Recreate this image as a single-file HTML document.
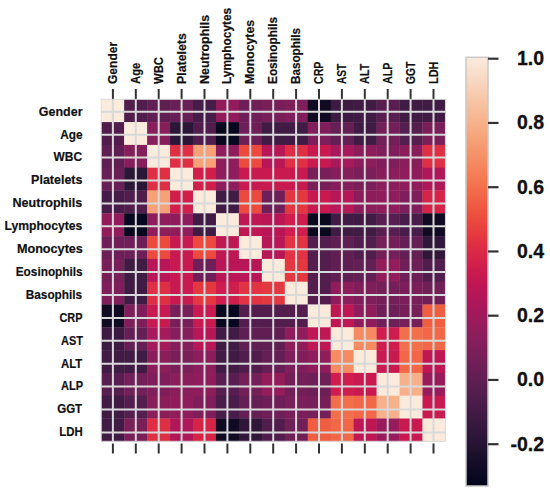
<!DOCTYPE html><html><head><meta charset="utf-8"><style>
html,body{margin:0;padding:0;background:#fff;width:550px;height:492px;overflow:hidden;position:relative;font-family:"Liberation Sans",sans-serif;font-weight:bold;color:#111}
.l{position:absolute;font-size:13px;line-height:14px;white-space:nowrap;-webkit-text-stroke:0.2px #111}
.yl{right:467.5px;text-align:right;transform-origin:100% 50%;transform:scaleX(0.945)}
.xl{transform-origin:0 0;transform:rotate(-90deg) scaleX(0.945)}
.cb{position:absolute;font-size:19.5px;line-height:20px;right:6px;text-align:right;-webkit-text-stroke:0.3px #111}
</style></head><body>
<svg width="550" height="492" style="position:absolute;left:0;top:0"><rect x="101.20" y="99.30" width="23.25" height="23.10" fill="#faebdd"/><rect x="124.15" y="99.30" width="23.25" height="23.10" fill="#501d4c"/><rect x="147.10" y="99.30" width="23.25" height="23.10" fill="#601f52"/><rect x="170.05" y="99.30" width="23.25" height="23.10" fill="#681f55"/><rect x="193.00" y="99.30" width="23.25" height="23.10" fill="#461c48"/><rect x="215.95" y="99.30" width="23.25" height="23.10" fill="#921c5b"/><rect x="238.90" y="99.30" width="23.25" height="23.10" fill="#6e1f57"/><rect x="261.85" y="99.30" width="23.25" height="23.10" fill="#781f59"/><rect x="284.80" y="99.30" width="23.25" height="23.10" fill="#7f1e5a"/><rect x="307.75" y="99.30" width="23.25" height="23.10" fill="#100b23"/><rect x="330.70" y="99.30" width="23.25" height="23.10" fill="#3d1a42"/><rect x="353.65" y="99.30" width="23.25" height="23.10" fill="#401b44"/><rect x="376.60" y="99.30" width="23.25" height="23.10" fill="#591e50"/><rect x="399.55" y="99.30" width="23.25" height="23.10" fill="#401b44"/><rect x="422.50" y="99.30" width="23.25" height="23.10" fill="#401b44"/><rect x="101.20" y="122.10" width="23.25" height="23.10" fill="#501d4c"/><rect x="124.15" y="122.10" width="23.25" height="23.10" fill="#faebdd"/><rect x="147.10" y="122.10" width="23.25" height="23.10" fill="#861e5b"/><rect x="170.05" y="122.10" width="23.25" height="23.10" fill="#2a1636"/><rect x="193.00" y="122.10" width="23.25" height="23.10" fill="#501d4c"/><rect x="215.95" y="122.10" width="23.25" height="23.10" fill="#08081e"/><rect x="238.90" y="122.10" width="23.25" height="23.10" fill="#6e1f57"/><rect x="261.85" y="122.10" width="23.25" height="23.10" fill="#401b44"/><rect x="284.80" y="122.10" width="23.25" height="23.10" fill="#401b44"/><rect x="307.75" y="122.10" width="23.25" height="23.10" fill="#7f1e5a"/><rect x="330.70" y="122.10" width="23.25" height="23.10" fill="#641f54"/><rect x="353.65" y="122.10" width="23.25" height="23.10" fill="#401b44"/><rect x="376.60" y="122.10" width="23.25" height="23.10" fill="#731f58"/><rect x="399.55" y="122.10" width="23.25" height="23.10" fill="#541e4e"/><rect x="422.50" y="122.10" width="23.25" height="23.10" fill="#7b1f59"/><rect x="101.20" y="144.90" width="23.25" height="23.10" fill="#601f52"/><rect x="124.15" y="144.90" width="23.25" height="23.10" fill="#861e5b"/><rect x="147.10" y="144.90" width="23.25" height="23.10" fill="#faebdd"/><rect x="170.05" y="144.90" width="23.25" height="23.10" fill="#df2f44"/><rect x="193.00" y="144.90" width="23.25" height="23.10" fill="#f6a178"/><rect x="215.95" y="144.90" width="23.25" height="23.10" fill="#901d5b"/><rect x="238.90" y="144.90" width="23.25" height="23.10" fill="#ec4a3e"/><rect x="261.85" y="144.90" width="23.25" height="23.10" fill="#b71657"/><rect x="284.80" y="144.90" width="23.25" height="23.10" fill="#df2f44"/><rect x="307.75" y="144.90" width="23.25" height="23.10" fill="#c81951"/><rect x="330.70" y="144.90" width="23.25" height="23.10" fill="#a6195a"/><rect x="353.65" y="144.90" width="23.25" height="23.10" fill="#8b1d5b"/><rect x="376.60" y="144.90" width="23.25" height="23.10" fill="#7f1e5a"/><rect x="399.55" y="144.90" width="23.25" height="23.10" fill="#891e5b"/><rect x="422.50" y="144.90" width="23.25" height="23.10" fill="#df2f44"/><rect x="101.20" y="167.70" width="23.25" height="23.10" fill="#681f55"/><rect x="124.15" y="167.70" width="23.25" height="23.10" fill="#2a1636"/><rect x="147.10" y="167.70" width="23.25" height="23.10" fill="#df2f44"/><rect x="170.05" y="167.70" width="23.25" height="23.10" fill="#faebdd"/><rect x="193.00" y="167.70" width="23.25" height="23.10" fill="#d11f4c"/><rect x="215.95" y="167.70" width="23.25" height="23.10" fill="#901d5b"/><rect x="238.90" y="167.70" width="23.25" height="23.10" fill="#c81951"/><rect x="261.85" y="167.70" width="23.25" height="23.10" fill="#c81951"/><rect x="284.80" y="167.70" width="23.25" height="23.10" fill="#c81951"/><rect x="307.75" y="167.70" width="23.25" height="23.10" fill="#781f59"/><rect x="330.70" y="167.70" width="23.25" height="23.10" fill="#861e5b"/><rect x="353.65" y="167.70" width="23.25" height="23.10" fill="#7b1f59"/><rect x="376.60" y="167.70" width="23.25" height="23.10" fill="#891e5b"/><rect x="399.55" y="167.70" width="23.25" height="23.10" fill="#901d5b"/><rect x="422.50" y="167.70" width="23.25" height="23.10" fill="#b01759"/><rect x="101.20" y="190.50" width="23.25" height="23.10" fill="#461c48"/><rect x="124.15" y="190.50" width="23.25" height="23.10" fill="#501d4c"/><rect x="147.10" y="190.50" width="23.25" height="23.10" fill="#f6a178"/><rect x="170.05" y="190.50" width="23.25" height="23.10" fill="#d11f4c"/><rect x="193.00" y="190.50" width="23.25" height="23.10" fill="#faebdd"/><rect x="215.95" y="190.50" width="23.25" height="23.10" fill="#401b44"/><rect x="238.90" y="190.50" width="23.25" height="23.10" fill="#ec4a3e"/><rect x="261.85" y="190.50" width="23.25" height="23.10" fill="#6e1f57"/><rect x="284.80" y="190.50" width="23.25" height="23.10" fill="#e43841"/><rect x="307.75" y="190.50" width="23.25" height="23.10" fill="#c81951"/><rect x="330.70" y="190.50" width="23.25" height="23.10" fill="#b71657"/><rect x="353.65" y="190.50" width="23.25" height="23.10" fill="#8b1d5b"/><rect x="376.60" y="190.50" width="23.25" height="23.10" fill="#901d5b"/><rect x="399.55" y="190.50" width="23.25" height="23.10" fill="#7f1e5a"/><rect x="422.50" y="190.50" width="23.25" height="23.10" fill="#d62449"/><rect x="101.20" y="213.30" width="23.25" height="23.10" fill="#921c5b"/><rect x="124.15" y="213.30" width="23.25" height="23.10" fill="#08081e"/><rect x="147.10" y="213.30" width="23.25" height="23.10" fill="#901d5b"/><rect x="170.05" y="213.30" width="23.25" height="23.10" fill="#901d5b"/><rect x="193.00" y="213.30" width="23.25" height="23.10" fill="#401b44"/><rect x="215.95" y="213.30" width="23.25" height="23.10" fill="#faebdd"/><rect x="238.90" y="213.30" width="23.25" height="23.10" fill="#bf1654"/><rect x="261.85" y="213.30" width="23.25" height="23.10" fill="#ba1656"/><rect x="284.80" y="213.30" width="23.25" height="23.10" fill="#ce1d4e"/><rect x="307.75" y="213.30" width="23.25" height="23.10" fill="#08081e"/><rect x="330.70" y="213.30" width="23.25" height="23.10" fill="#401b44"/><rect x="353.65" y="213.30" width="23.25" height="23.10" fill="#401b44"/><rect x="376.60" y="213.30" width="23.25" height="23.10" fill="#591e50"/><rect x="399.55" y="213.30" width="23.25" height="23.10" fill="#491d49"/><rect x="422.50" y="213.30" width="23.25" height="23.10" fill="#100b23"/><rect x="101.20" y="236.10" width="23.25" height="23.10" fill="#6e1f57"/><rect x="124.15" y="236.10" width="23.25" height="23.10" fill="#6e1f57"/><rect x="147.10" y="236.10" width="23.25" height="23.10" fill="#ec4a3e"/><rect x="170.05" y="236.10" width="23.25" height="23.10" fill="#c81951"/><rect x="193.00" y="236.10" width="23.25" height="23.10" fill="#ec4a3e"/><rect x="215.95" y="236.10" width="23.25" height="23.10" fill="#bf1654"/><rect x="238.90" y="236.10" width="23.25" height="23.10" fill="#faebdd"/><rect x="261.85" y="236.10" width="23.25" height="23.10" fill="#b71657"/><rect x="284.80" y="236.10" width="23.25" height="23.10" fill="#e13342"/><rect x="307.75" y="236.10" width="23.25" height="23.10" fill="#531e4d"/><rect x="330.70" y="236.10" width="23.25" height="23.10" fill="#601f52"/><rect x="353.65" y="236.10" width="23.25" height="23.10" fill="#501d4c"/><rect x="376.60" y="236.10" width="23.25" height="23.10" fill="#751f58"/><rect x="399.55" y="236.10" width="23.25" height="23.10" fill="#641f54"/><rect x="422.50" y="236.10" width="23.25" height="23.10" fill="#30173a"/><rect x="101.20" y="258.90" width="23.25" height="23.10" fill="#781f59"/><rect x="124.15" y="258.90" width="23.25" height="23.10" fill="#401b44"/><rect x="147.10" y="258.90" width="23.25" height="23.10" fill="#b71657"/><rect x="170.05" y="258.90" width="23.25" height="23.10" fill="#c81951"/><rect x="193.00" y="258.90" width="23.25" height="23.10" fill="#6e1f57"/><rect x="215.95" y="258.90" width="23.25" height="23.10" fill="#ba1656"/><rect x="238.90" y="258.90" width="23.25" height="23.10" fill="#b71657"/><rect x="261.85" y="258.90" width="23.25" height="23.10" fill="#faebdd"/><rect x="284.80" y="258.90" width="23.25" height="23.10" fill="#e43841"/><rect x="307.75" y="258.90" width="23.25" height="23.10" fill="#531e4d"/><rect x="330.70" y="258.90" width="23.25" height="23.10" fill="#601f52"/><rect x="353.65" y="258.90" width="23.25" height="23.10" fill="#641f54"/><rect x="376.60" y="258.90" width="23.25" height="23.10" fill="#931c5b"/><rect x="399.55" y="258.90" width="23.25" height="23.10" fill="#6e1f57"/><rect x="422.50" y="258.90" width="23.25" height="23.10" fill="#501d4c"/><rect x="101.20" y="281.70" width="23.25" height="23.10" fill="#7f1e5a"/><rect x="124.15" y="281.70" width="23.25" height="23.10" fill="#401b44"/><rect x="147.10" y="281.70" width="23.25" height="23.10" fill="#df2f44"/><rect x="170.05" y="281.70" width="23.25" height="23.10" fill="#c81951"/><rect x="193.00" y="281.70" width="23.25" height="23.10" fill="#e43841"/><rect x="215.95" y="281.70" width="23.25" height="23.10" fill="#ce1d4e"/><rect x="238.90" y="281.70" width="23.25" height="23.10" fill="#e13342"/><rect x="261.85" y="281.70" width="23.25" height="23.10" fill="#e43841"/><rect x="284.80" y="281.70" width="23.25" height="23.10" fill="#faebdd"/><rect x="307.75" y="281.70" width="23.25" height="23.10" fill="#531e4d"/><rect x="330.70" y="281.70" width="23.25" height="23.10" fill="#901d5b"/><rect x="353.65" y="281.70" width="23.25" height="23.10" fill="#7f1e5a"/><rect x="376.60" y="281.70" width="23.25" height="23.10" fill="#751f58"/><rect x="399.55" y="281.70" width="23.25" height="23.10" fill="#7a1f59"/><rect x="422.50" y="281.70" width="23.25" height="23.10" fill="#701f57"/><rect x="101.20" y="304.50" width="23.25" height="23.10" fill="#100b23"/><rect x="124.15" y="304.50" width="23.25" height="23.10" fill="#7f1e5a"/><rect x="147.10" y="304.50" width="23.25" height="23.10" fill="#c81951"/><rect x="170.05" y="304.50" width="23.25" height="23.10" fill="#781f59"/><rect x="193.00" y="304.50" width="23.25" height="23.10" fill="#c81951"/><rect x="215.95" y="304.50" width="23.25" height="23.10" fill="#08081e"/><rect x="238.90" y="304.50" width="23.25" height="23.10" fill="#531e4d"/><rect x="261.85" y="304.50" width="23.25" height="23.10" fill="#531e4d"/><rect x="284.80" y="304.50" width="23.25" height="23.10" fill="#531e4d"/><rect x="307.75" y="304.50" width="23.25" height="23.10" fill="#faebdd"/><rect x="330.70" y="304.50" width="23.25" height="23.10" fill="#bf1654"/><rect x="353.65" y="304.50" width="23.25" height="23.10" fill="#901d5b"/><rect x="376.60" y="304.50" width="23.25" height="23.10" fill="#6e1f57"/><rect x="399.55" y="304.50" width="23.25" height="23.10" fill="#761f58"/><rect x="422.50" y="304.50" width="23.25" height="23.10" fill="#f05e42"/><rect x="101.20" y="327.30" width="23.25" height="23.10" fill="#3d1a42"/><rect x="124.15" y="327.30" width="23.25" height="23.10" fill="#641f54"/><rect x="147.10" y="327.30" width="23.25" height="23.10" fill="#a6195a"/><rect x="170.05" y="327.30" width="23.25" height="23.10" fill="#861e5b"/><rect x="193.00" y="327.30" width="23.25" height="23.10" fill="#b71657"/><rect x="215.95" y="327.30" width="23.25" height="23.10" fill="#401b44"/><rect x="238.90" y="327.30" width="23.25" height="23.10" fill="#601f52"/><rect x="261.85" y="327.30" width="23.25" height="23.10" fill="#601f52"/><rect x="284.80" y="327.30" width="23.25" height="23.10" fill="#901d5b"/><rect x="307.75" y="327.30" width="23.25" height="23.10" fill="#bf1654"/><rect x="330.70" y="327.30" width="23.25" height="23.10" fill="#faebdd"/><rect x="353.65" y="327.30" width="23.25" height="23.10" fill="#f58b63"/><rect x="376.60" y="327.30" width="23.25" height="23.10" fill="#ce1d4e"/><rect x="399.55" y="327.30" width="23.25" height="23.10" fill="#f26f4c"/><rect x="422.50" y="327.30" width="23.25" height="23.10" fill="#f26747"/><rect x="101.20" y="350.10" width="23.25" height="23.10" fill="#401b44"/><rect x="124.15" y="350.10" width="23.25" height="23.10" fill="#401b44"/><rect x="147.10" y="350.10" width="23.25" height="23.10" fill="#8b1d5b"/><rect x="170.05" y="350.10" width="23.25" height="23.10" fill="#7b1f59"/><rect x="193.00" y="350.10" width="23.25" height="23.10" fill="#8b1d5b"/><rect x="215.95" y="350.10" width="23.25" height="23.10" fill="#401b44"/><rect x="238.90" y="350.10" width="23.25" height="23.10" fill="#501d4c"/><rect x="261.85" y="350.10" width="23.25" height="23.10" fill="#641f54"/><rect x="284.80" y="350.10" width="23.25" height="23.10" fill="#7f1e5a"/><rect x="307.75" y="350.10" width="23.25" height="23.10" fill="#901d5b"/><rect x="330.70" y="350.10" width="23.25" height="23.10" fill="#f58b63"/><rect x="353.65" y="350.10" width="23.25" height="23.10" fill="#faebdd"/><rect x="376.60" y="350.10" width="23.25" height="23.10" fill="#c81951"/><rect x="399.55" y="350.10" width="23.25" height="23.10" fill="#f26747"/><rect x="422.50" y="350.10" width="23.25" height="23.10" fill="#bf1654"/><rect x="101.20" y="372.90" width="23.25" height="23.10" fill="#591e50"/><rect x="124.15" y="372.90" width="23.25" height="23.10" fill="#731f58"/><rect x="147.10" y="372.90" width="23.25" height="23.10" fill="#7f1e5a"/><rect x="170.05" y="372.90" width="23.25" height="23.10" fill="#891e5b"/><rect x="193.00" y="372.90" width="23.25" height="23.10" fill="#901d5b"/><rect x="215.95" y="372.90" width="23.25" height="23.10" fill="#591e50"/><rect x="238.90" y="372.90" width="23.25" height="23.10" fill="#751f58"/><rect x="261.85" y="372.90" width="23.25" height="23.10" fill="#931c5b"/><rect x="284.80" y="372.90" width="23.25" height="23.10" fill="#751f58"/><rect x="307.75" y="372.90" width="23.25" height="23.10" fill="#6e1f57"/><rect x="330.70" y="372.90" width="23.25" height="23.10" fill="#ce1d4e"/><rect x="353.65" y="372.90" width="23.25" height="23.10" fill="#c81951"/><rect x="376.60" y="372.90" width="23.25" height="23.10" fill="#faebdd"/><rect x="399.55" y="372.90" width="23.25" height="23.10" fill="#f6b18b"/><rect x="422.50" y="372.90" width="23.25" height="23.10" fill="#981b5b"/><rect x="101.20" y="395.70" width="23.25" height="23.10" fill="#401b44"/><rect x="124.15" y="395.70" width="23.25" height="23.10" fill="#541e4e"/><rect x="147.10" y="395.70" width="23.25" height="23.10" fill="#891e5b"/><rect x="170.05" y="395.70" width="23.25" height="23.10" fill="#901d5b"/><rect x="193.00" y="395.70" width="23.25" height="23.10" fill="#7f1e5a"/><rect x="215.95" y="395.70" width="23.25" height="23.10" fill="#491d49"/><rect x="238.90" y="395.70" width="23.25" height="23.10" fill="#641f54"/><rect x="261.85" y="395.70" width="23.25" height="23.10" fill="#6e1f57"/><rect x="284.80" y="395.70" width="23.25" height="23.10" fill="#7a1f59"/><rect x="307.75" y="395.70" width="23.25" height="23.10" fill="#761f58"/><rect x="330.70" y="395.70" width="23.25" height="23.10" fill="#f26f4c"/><rect x="353.65" y="395.70" width="23.25" height="23.10" fill="#f26747"/><rect x="376.60" y="395.70" width="23.25" height="23.10" fill="#f6b18b"/><rect x="399.55" y="395.70" width="23.25" height="23.10" fill="#faebdd"/><rect x="422.50" y="395.70" width="23.25" height="23.10" fill="#c81951"/><rect x="101.20" y="418.50" width="23.25" height="23.10" fill="#401b44"/><rect x="124.15" y="418.50" width="23.25" height="23.10" fill="#7b1f59"/><rect x="147.10" y="418.50" width="23.25" height="23.10" fill="#df2f44"/><rect x="170.05" y="418.50" width="23.25" height="23.10" fill="#b01759"/><rect x="193.00" y="418.50" width="23.25" height="23.10" fill="#d62449"/><rect x="215.95" y="418.50" width="23.25" height="23.10" fill="#100b23"/><rect x="238.90" y="418.50" width="23.25" height="23.10" fill="#30173a"/><rect x="261.85" y="418.50" width="23.25" height="23.10" fill="#501d4c"/><rect x="284.80" y="418.50" width="23.25" height="23.10" fill="#701f57"/><rect x="307.75" y="418.50" width="23.25" height="23.10" fill="#f05e42"/><rect x="330.70" y="418.50" width="23.25" height="23.10" fill="#f26747"/><rect x="353.65" y="418.50" width="23.25" height="23.10" fill="#bf1654"/><rect x="376.60" y="418.50" width="23.25" height="23.10" fill="#981b5b"/><rect x="399.55" y="418.50" width="23.25" height="23.10" fill="#c81951"/><rect x="422.50" y="418.50" width="23.25" height="23.10" fill="#faebdd"/><line x1="112.90" y1="99.30" x2="112.90" y2="441.30" stroke="#d9d9d9" stroke-width="2"/><line x1="101.20" y1="111.80" x2="445.45" y2="111.80" stroke="#d9d9d9" stroke-width="2"/><line x1="112.90" y1="89" x2="112.90" y2="99.5" stroke="#333" stroke-width="2"/><line x1="112.90" y1="443.5" x2="112.90" y2="453.5" stroke="#333" stroke-width="2"/><line x1="135.80" y1="99.30" x2="135.80" y2="441.30" stroke="#d9d9d9" stroke-width="2"/><line x1="101.20" y1="134.70" x2="445.45" y2="134.70" stroke="#d9d9d9" stroke-width="2"/><line x1="135.80" y1="89" x2="135.80" y2="99.5" stroke="#333" stroke-width="2"/><line x1="135.80" y1="443.5" x2="135.80" y2="453.5" stroke="#333" stroke-width="2"/><line x1="158.70" y1="99.30" x2="158.70" y2="441.30" stroke="#d9d9d9" stroke-width="2"/><line x1="101.20" y1="157.60" x2="445.45" y2="157.60" stroke="#d9d9d9" stroke-width="2"/><line x1="158.70" y1="89" x2="158.70" y2="99.5" stroke="#333" stroke-width="2"/><line x1="158.70" y1="443.5" x2="158.70" y2="453.5" stroke="#333" stroke-width="2"/><line x1="181.60" y1="99.30" x2="181.60" y2="441.30" stroke="#d9d9d9" stroke-width="2"/><line x1="101.20" y1="180.50" x2="445.45" y2="180.50" stroke="#d9d9d9" stroke-width="2"/><line x1="181.60" y1="89" x2="181.60" y2="99.5" stroke="#333" stroke-width="2"/><line x1="181.60" y1="443.5" x2="181.60" y2="453.5" stroke="#333" stroke-width="2"/><line x1="204.50" y1="99.30" x2="204.50" y2="441.30" stroke="#d9d9d9" stroke-width="2"/><line x1="101.20" y1="203.40" x2="445.45" y2="203.40" stroke="#d9d9d9" stroke-width="2"/><line x1="204.50" y1="89" x2="204.50" y2="99.5" stroke="#333" stroke-width="2"/><line x1="204.50" y1="443.5" x2="204.50" y2="453.5" stroke="#333" stroke-width="2"/><line x1="227.40" y1="99.30" x2="227.40" y2="441.30" stroke="#d9d9d9" stroke-width="2"/><line x1="101.20" y1="226.30" x2="445.45" y2="226.30" stroke="#d9d9d9" stroke-width="2"/><line x1="227.40" y1="89" x2="227.40" y2="99.5" stroke="#333" stroke-width="2"/><line x1="227.40" y1="443.5" x2="227.40" y2="453.5" stroke="#333" stroke-width="2"/><line x1="250.30" y1="99.30" x2="250.30" y2="441.30" stroke="#d9d9d9" stroke-width="2"/><line x1="101.20" y1="249.20" x2="445.45" y2="249.20" stroke="#d9d9d9" stroke-width="2"/><line x1="250.30" y1="89" x2="250.30" y2="99.5" stroke="#333" stroke-width="2"/><line x1="250.30" y1="443.5" x2="250.30" y2="453.5" stroke="#333" stroke-width="2"/><line x1="273.20" y1="99.30" x2="273.20" y2="441.30" stroke="#d9d9d9" stroke-width="2"/><line x1="101.20" y1="272.10" x2="445.45" y2="272.10" stroke="#d9d9d9" stroke-width="2"/><line x1="273.20" y1="89" x2="273.20" y2="99.5" stroke="#333" stroke-width="2"/><line x1="273.20" y1="443.5" x2="273.20" y2="453.5" stroke="#333" stroke-width="2"/><line x1="296.10" y1="99.30" x2="296.10" y2="441.30" stroke="#d9d9d9" stroke-width="2"/><line x1="101.20" y1="295.00" x2="445.45" y2="295.00" stroke="#d9d9d9" stroke-width="2"/><line x1="296.10" y1="89" x2="296.10" y2="99.5" stroke="#333" stroke-width="2"/><line x1="296.10" y1="443.5" x2="296.10" y2="453.5" stroke="#333" stroke-width="2"/><line x1="319.00" y1="99.30" x2="319.00" y2="441.30" stroke="#d9d9d9" stroke-width="2"/><line x1="101.20" y1="317.90" x2="445.45" y2="317.90" stroke="#d9d9d9" stroke-width="2"/><line x1="319.00" y1="89" x2="319.00" y2="99.5" stroke="#333" stroke-width="2"/><line x1="319.00" y1="443.5" x2="319.00" y2="453.5" stroke="#333" stroke-width="2"/><line x1="341.90" y1="99.30" x2="341.90" y2="441.30" stroke="#d9d9d9" stroke-width="2"/><line x1="101.20" y1="340.80" x2="445.45" y2="340.80" stroke="#d9d9d9" stroke-width="2"/><line x1="341.90" y1="89" x2="341.90" y2="99.5" stroke="#333" stroke-width="2"/><line x1="341.90" y1="443.5" x2="341.90" y2="453.5" stroke="#333" stroke-width="2"/><line x1="364.80" y1="99.30" x2="364.80" y2="441.30" stroke="#d9d9d9" stroke-width="2"/><line x1="101.20" y1="363.70" x2="445.45" y2="363.70" stroke="#d9d9d9" stroke-width="2"/><line x1="364.80" y1="89" x2="364.80" y2="99.5" stroke="#333" stroke-width="2"/><line x1="364.80" y1="443.5" x2="364.80" y2="453.5" stroke="#333" stroke-width="2"/><line x1="387.70" y1="99.30" x2="387.70" y2="441.30" stroke="#d9d9d9" stroke-width="2"/><line x1="101.20" y1="386.60" x2="445.45" y2="386.60" stroke="#d9d9d9" stroke-width="2"/><line x1="387.70" y1="89" x2="387.70" y2="99.5" stroke="#333" stroke-width="2"/><line x1="387.70" y1="443.5" x2="387.70" y2="453.5" stroke="#333" stroke-width="2"/><line x1="410.60" y1="99.30" x2="410.60" y2="441.30" stroke="#d9d9d9" stroke-width="2"/><line x1="101.20" y1="409.50" x2="445.45" y2="409.50" stroke="#d9d9d9" stroke-width="2"/><line x1="410.60" y1="89" x2="410.60" y2="99.5" stroke="#333" stroke-width="2"/><line x1="410.60" y1="443.5" x2="410.60" y2="453.5" stroke="#333" stroke-width="2"/><line x1="433.50" y1="99.30" x2="433.50" y2="441.30" stroke="#d9d9d9" stroke-width="2"/><line x1="101.20" y1="432.40" x2="445.45" y2="432.40" stroke="#d9d9d9" stroke-width="2"/><line x1="433.50" y1="89" x2="433.50" y2="99.5" stroke="#333" stroke-width="2"/><line x1="433.50" y1="443.5" x2="433.50" y2="453.5" stroke="#333" stroke-width="2"/><rect x="101.20" y="99.30" width="344.25" height="342.00" fill="none" stroke="#dcdcdc" stroke-width="1"/><defs><linearGradient id="g" x1="0" y1="0" x2="0" y2="1"><stop offset="0.0000" stop-color="#faebdd"/><stop offset="0.0312" stop-color="#f9e0cd"/><stop offset="0.0625" stop-color="#f8d4bc"/><stop offset="0.0938" stop-color="#f7c9aa"/><stop offset="0.1250" stop-color="#f6bc99"/><stop offset="0.1562" stop-color="#f6b089"/><stop offset="0.1875" stop-color="#f6a37a"/><stop offset="0.2188" stop-color="#f5966c"/><stop offset="0.2500" stop-color="#f58860"/><stop offset="0.2812" stop-color="#f47a54"/><stop offset="0.3125" stop-color="#f26b49"/><stop offset="0.3438" stop-color="#f05c42"/><stop offset="0.3750" stop-color="#ec4c3e"/><stop offset="0.4062" stop-color="#e73d3f"/><stop offset="0.4375" stop-color="#df2f44"/><stop offset="0.4688" stop-color="#d62449"/><stop offset="0.5000" stop-color="#cb1b4f"/><stop offset="0.5312" stop-color="#bf1654"/><stop offset="0.5625" stop-color="#b21758"/><stop offset="0.5938" stop-color="#a3195b"/><stop offset="0.6250" stop-color="#971c5b"/><stop offset="0.6562" stop-color="#891e5b"/><stop offset="0.6875" stop-color="#7b1f59"/><stop offset="0.7188" stop-color="#6e1f57"/><stop offset="0.7500" stop-color="#611f53"/><stop offset="0.7812" stop-color="#541e4e"/><stop offset="0.8125" stop-color="#481c48"/><stop offset="0.8438" stop-color="#3c1a42"/><stop offset="0.8750" stop-color="#30173a"/><stop offset="0.9062" stop-color="#241432"/><stop offset="0.9375" stop-color="#170f28"/><stop offset="0.9688" stop-color="#0d0a21"/><stop offset="1.0000" stop-color="#03051a"/></linearGradient></defs><rect x="466.0" y="57.3" width="22.0" height="428.7" fill="url(#g)" stroke="#c8c8c8" stroke-width="1.5"/><line x1="488" y1="58.70" x2="498.5" y2="58.70" stroke="#333" stroke-width="2.2"/><line x1="488" y1="122.95" x2="498.5" y2="122.95" stroke="#333" stroke-width="2.2"/><line x1="488" y1="187.20" x2="498.5" y2="187.20" stroke="#333" stroke-width="2.2"/><line x1="488" y1="251.45" x2="498.5" y2="251.45" stroke="#333" stroke-width="2.2"/><line x1="488" y1="315.70" x2="498.5" y2="315.70" stroke="#333" stroke-width="2.2"/><line x1="488" y1="379.95" x2="498.5" y2="379.95" stroke="#333" stroke-width="2.2"/><line x1="488" y1="444.20" x2="498.5" y2="444.20" stroke="#333" stroke-width="2.2"/></svg>
<div class="l yl" style="top:104.6px;transform:scaleX(0.960)">Gender</div>
<div class="l yl" style="top:127.5px;transform:scaleX(0.911)">Age</div>
<div class="l yl" style="top:150.4px;transform:scaleX(0.919)">WBC</div>
<div class="l yl" style="top:173.3px;transform:scaleX(0.961)">Platelets</div>
<div class="l yl" style="top:196.2px;transform:scaleX(0.965)">Neutrophils</div>
<div class="l yl" style="top:219.1px;transform:scaleX(0.934)">Lymphocytes</div>
<div class="l yl" style="top:242.0px;transform:scaleX(0.972)">Monocytes</div>
<div class="l yl" style="top:264.9px;transform:scaleX(0.909)">Eosinophils</div>
<div class="l yl" style="top:287.8px;transform:scaleX(0.907)">Basophils</div>
<div class="l yl" style="top:310.7px;transform:scaleX(0.839)">CRP</div>
<div class="l yl" style="top:333.6px;transform:scaleX(0.846)">AST</div>
<div class="l yl" style="top:356.5px;transform:scaleX(0.877)">ALT</div>
<div class="l yl" style="top:379.4px;transform:scaleX(0.846)">ALP</div>
<div class="l yl" style="top:402.3px;transform:scaleX(0.887)">GGT</div>
<div class="l yl" style="top:425.2px;transform:scaleX(0.876)">LDH</div>
<div class="l xl" style="left:105.9px;top:84px;transform:rotate(-90deg) scaleX(0.925)">Gender</div>
<div class="l xl" style="left:128.8px;top:84px;transform:rotate(-90deg) scaleX(0.866)">Age</div>
<div class="l xl" style="left:151.7px;top:84px;transform:rotate(-90deg) scaleX(0.871)">WBC</div>
<div class="l xl" style="left:174.6px;top:84px;transform:rotate(-90deg) scaleX(0.950)">Platelets</div>
<div class="l xl" style="left:197.5px;top:84px;transform:rotate(-90deg) scaleX(0.957)">Neutrophils</div>
<div class="l xl" style="left:220.4px;top:84px;transform:rotate(-90deg) scaleX(0.915)">Lymphocytes</div>
<div class="l xl" style="left:243.3px;top:84px;transform:rotate(-90deg) scaleX(0.943)">Monocytes</div>
<div class="l xl" style="left:266.2px;top:84px;transform:rotate(-90deg) scaleX(0.910)">Eosinophils</div>
<div class="l xl" style="left:289.1px;top:84px;transform:rotate(-90deg) scaleX(0.900)">Basophils</div>
<div class="l xl" style="left:312.0px;top:84px;transform:rotate(-90deg) scaleX(0.814)">CRP</div>
<div class="l xl" style="left:334.9px;top:84px;transform:rotate(-90deg) scaleX(0.781)">AST</div>
<div class="l xl" style="left:357.8px;top:84px;transform:rotate(-90deg) scaleX(0.835)">ALT</div>
<div class="l xl" style="left:380.7px;top:84px;transform:rotate(-90deg) scaleX(0.819)">ALP</div>
<div class="l xl" style="left:403.6px;top:84px;transform:rotate(-90deg) scaleX(0.791)">GGT</div>
<div class="l xl" style="left:426.5px;top:84px;transform:rotate(-90deg) scaleX(0.835)">LDH</div>
<div class="cb" style="top:48.1px">1.0</div>
<div class="cb" style="top:112.4px">0.8</div>
<div class="cb" style="top:176.6px">0.6</div>
<div class="cb" style="top:240.8px">0.4</div>
<div class="cb" style="top:305.1px">0.2</div>
<div class="cb" style="top:369.3px">0.0</div>
<div class="cb" style="top:433.6px">-0.2</div>
</body></html>
